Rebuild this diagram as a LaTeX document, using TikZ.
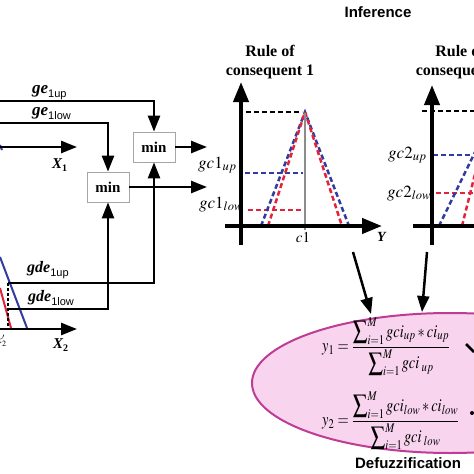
\documentclass[tikz,border=0pt]{standalone}
\usepackage{mathptmx}
\usepackage[no-math]{fontspec}
\setmainfont{Liberation Serif}
\newfontfamily\arial{Liberation Sans}
\usetikzlibrary{arrows.meta}
\definecolor{mfblue}{RGB}{50,60,160}
\definecolor{mfred}{RGB}{225,35,60}
\definecolor{ellfill}{RGB}{248,212,238}
\definecolor{elldraw}{RGB}{190,60,150}
\newcommand\mylab[3]{{\fontsize{#3}{#3}\selectfont\bfseries\itshape #1}\raisebox{-4pt}{\arial\fontsize{11}{12}\selectfont #2}}
\begin{document}
\begin{tikzpicture}[x=1pt,y=-1pt,
  ln/.style={line width=2.5pt},
  arr/.style={ln,-{Triangle[length=16pt,width=12pt]}},
  ax/.style={line width=4pt},
  axarr/.style={ax,-{Triangle[length=20pt,width=15pt]}},
  minbox/.style={draw=black!35,line width=0.8pt,fill=white,minimum width=42pt,minimum height=30pt,inner sep=0pt,font=\fontsize{15}{18}\selectfont\bfseries},
  bdash/.style={mfblue,line width=2.5pt,dash pattern=on 5pt off 3pt},
  rdash/.style={mfred,line width=2.5pt,dash pattern=on 5pt off 3pt},
  kdash/.style={black,line width=2pt,dash pattern=on 5pt off 3pt},
  lbl/.style={inner sep=0pt,anchor=base west},
  mathlbl/.style={inner sep=0pt,anchor=base west,font=\fontsize{17}{17}\selectfont},
  title/.style={align=center,inner sep=0pt,font=\fontsize{16}{19}\selectfont\bfseries},
  sanstitle/.style={inner sep=0pt,font=\arial\fontsize{15}{18}\selectfont\bfseries},
  formula/.style={inner sep=0pt,anchor=west,font=\fontsize{18}{20}\selectfont}
]
\clip (0,0) rectangle (474,474);
\fill[white] (0,0) rectangle (474,474);

% ---------- titles ----------
\node[sanstitle] (tinf) at (378,12) {Inference};
\node[title] (t1) at (270,62) {Rule of\\consequent 1};
\node[title] (t2) at (460,62) {Rule of\\consequent 2};

% ---------- left: antecedents ----------
\draw[mfblue,line width=2pt] (0,145) -- (2,150);
\coordinate (x1s) at (0,147);
\coordinate (x1e) at (77,147);
\draw[arr] (x1s) -- (x1e);
\node[lbl] (lx1) at (52,168) {{\fontsize{15}{15}\selectfont\bfseries\itshape X}\raisebox{-3pt}{\fontsize{10}{10}\selectfont\bfseries 1}};

\node[minbox] (minU) at (154,147) {min};
\node[minbox] (minL) at (108,187) {min};

\coordinate (geu) at (0,101);
\coordinate (gel) at (0,123);
\draw[arr] (geu) -| (minU.north);
\draw[arr] (gel) -| (minL.north);
\node[lbl] (lgeu) at (32,93) {\mylab{ge}{1up}{17}};
\node[lbl] (lgel) at (32,115) {\mylab{ge}{1low}{17}};

% bottom-left membership functions
\draw[mfblue,line width=2pt] (0,257) -- (27,328);
\draw[mfred,line width=2pt] (0,288) -- (11,328);
\draw[black,line width=2pt,dash pattern=on 3pt off 2pt] (8,283) -- (8,328);
\coordinate (x2s) at (0,329);
\coordinate (x2e) at (77,329);
\draw[arr] (x2s) -- (x2e);
\node[lbl] (lx2) at (53,348) {{\fontsize{15}{15}\selectfont\bfseries\itshape X}\raisebox{-3pt}{\fontsize{10}{10}\selectfont\bfseries 2}};
\node[lbl,font=\fontsize{11}{11}\selectfont] (lxp) at (-3,343) {$x'_2$};

\coordinate (gdeu) at (8,283);
\coordinate (gdel) at (8,309);
\draw[arr] (gdeu) -| (minU.south);
\draw[arr] (gdel) -| (minL.south);
\node[lbl] (lgdeu) at (27,272) {\mylab{gde}{1up}{16}};
\node[lbl] (lgdel) at (28,301) {\mylab{gde}{1low}{16}};

\coordinate (outU) at (207,147);
\coordinate (outL) at (207,187);
\draw[arr] (minU.east) -- (outU);
\draw[arr] (minL.east) -- (outL);

% ---------- chart 1 ----------
\draw[bdash] (245,173) -- (303,173);
\draw[rdash] (248,210) -- (303,210);
\draw[kdash] (246,112) -- (302,112);
\draw[bdash] (261,226) -- (305,112) -- (349,226);
\draw[rdash] (268,226) -- (305,112) -- (342,226);
\draw[black!45,line width=2pt] (305,230) -- (305,113);
\draw[axarr] (241,245) -- (241,82);
\draw[axarr] (225,226) -- (382,226);
\node[mathlbl] (lgc1u) at (198,168) {$gc1_{up}$};
\node[mathlbl] (lgc1l) at (199,208) {$gc1_{low}$};
\node[inner sep=0pt,font=\fontsize{15}{15}\selectfont] (lc1) at (303,238) {$c1$};
\node[lbl,font=\fontsize{14}{14}\selectfont\bfseries\itshape] (ly) at (377,241) {Y};

% ---------- chart 2 ----------
\draw[kdash] (422,111) -- (480,111);
\draw[bdash] (433,155) -- (472,155);
\draw[rdash] (436,193) -- (480,193);
\draw[bdash] (439,226) -- (478,146);
\draw[rdash] (462,226) -- (477,166);
\draw[axarr] (432,245) -- (432,85);
\draw[ax] (413,226) -- (480,226);
\node[mathlbl] (lgc2u) at (388,158) {$gc2_{up}$};
\node[mathlbl] (lgc2l) at (387,197) {$gc2_{low}$};

% ---------- defuzzification ----------
\draw[elldraw,fill=ellfill,line width=2pt] (450,383) ellipse [x radius=198,y radius=70];
\coordinate (a1s) at (353,252);
\coordinate (a1e) at (371,314);
\coordinate (a2s) at (427,252);
\coordinate (a2e) at (422,312);
\draw[arr] (a1s) -- (a1e);
\draw[arr] (a2s) -- (a2e);
\node[formula] (f1) at (322,347)
  {\scalebox{0.8}[1]{$\displaystyle y_1=\frac{\displaystyle\sum\nolimits_{i=1}^{M} gci_{up} * ci_{up}}{\displaystyle\sum\nolimits_{i=1}^{M} gci_{\;up}}$}};
\node[formula] (f2) at (322,421)
  {\scalebox{0.8}[1]{$\displaystyle y_2=\frac{\displaystyle\sum\nolimits_{i=1}^{M} gci_{low} * ci_{low}}{\displaystyle\sum\nolimits_{i=1}^{M} gci_{\;low}}$}};
\draw[ln] (466,344) -- (474,352);
\fill (472,413) circle (2pt);
\node[sanstitle] (tdef) at (408,463) {Defuzzification};
\end{tikzpicture}
\end{document}
